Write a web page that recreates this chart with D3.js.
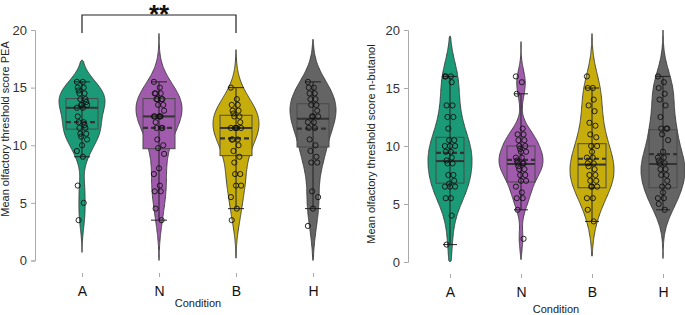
<!DOCTYPE html>
<html>
<head>
<meta charset="utf-8">
<script src="https://cdnjs.cloudflare.com/ajax/libs/d3/7.8.5/d3.min.js"></script>
<style>
  body { margin: 0; background: #fff; }
  svg { font-family: "Liberation Sans", Arial, sans-serif; }
</style>
</head>
<body>
<div id="chart"></div>
<script>
// conditions
var categories = ["A", "N", "B", "H"];

// PEA thresholds, one array per condition
var peaA = [15.5, 15.5, 15, 15, 14.75, 14.5, 14.5, 14, 14, 13.75, 13.5, 13.5, 13.5, 13.25, 13.25, 12.5, 12, 12, 11.75, 11.5, 11.5, 11, 11, 10.75, 10.5, 10, 9.5, 9, 6.5, 5, 3.5];
var peaN = [15.5, 15, 14.5, 14.5, 14.5, 14, 14, 14, 14, 13.5, 13.5, 13, 12.5, 12.5, 12.5, 12.5, 12.5, 12, 11.5, 11.5, 11.5, 10.5, 10, 9.75, 9.25, 8, 7.5, 6.5, 6, 6, 4.5, 3.5];
var peaB = [15, 14, 13.5, 13.5, 13, 13, 12.75, 12.5, 12.5, 12, 11.5, 11.5, 11.5, 11.5, 11.5, 10.5, 10.5, 10.5, 10, 9.5, 9, 8.5, 7.5, 7.5, 6.5, 6.5, 5.5, 4.5, 3.5];
var peaH = [15.5, 15, 15, 14.5, 14.5, 14, 14, 13.5, 13.5, 13, 12.5, 12.5, 12.5, 12, 12, 11.5, 11.5, 10.5, 10, 9.5, 9, 8.5, 8.5, 6, 5.5, 4.5, 3];

// PEA box summaries (A, N, B, H)
var peaQ1     = [11.4, 9.7, 9.1, 9.85];
var peaMedian = [13.25, 12.5, 11.5, 12.3];
var peaQ3     = [14.05, 14.05, 12.6, 13.6];
var peaMean   = [12.0, 11.5, 10.6, 11.45];
var peaLow    = [9, 3.5, 4.5, 4.5];
var peaHigh   = [15.5, 15.5, 15, 15.5];
// where each violin outline ends
var peaTipLow  = [0.7, 0, 0.2, 0];
var peaTipHigh = [17.4, 19.7, 18.3, 19.2];

// n-butanol thresholds
var butA = [16, 16, 16, 15.5, 13.5, 13.5, 12.5, 12.5, 11.5, 10.5, 10.5, 10, 10, 10, 9.5, 9.5, 9, 8.75, 8.5, 8.5, 7.5, 7.5, 7, 6.75, 6.5, 6.5, 6.5, 5.5, 5.5, 4, 1.5];
var butN = [16, 15.5, 14.5, 11.5, 11, 11, 10.5, 10.5, 10, 10, 9.75, 9.5, 9.5, 9, 9, 8.75, 8.5, 8.5, 8.5, 8.25, 8, 8, 7.5, 7.5, 7, 7, 6.5, 6, 5.5, 5.5, 4.5, 2];
var butB = [16, 15, 15, 14, 13.5, 13, 12, 11.75, 11, 10.75, 10, 10, 9.5, 9, 9, 8.5, 8.5, 8.25, 8, 7.5, 7.5, 7, 7, 6.5, 6.5, 6.5, 5.5, 5.5, 4.5, 3.5];
var butH = [16, 15.5, 15, 14.5, 14, 13.5, 12.5, 11.5, 11.5, 11.5, 11, 10.5, 9.5, 9, 9, 8.75, 8.5, 8.5, 8, 8, 7.5, 7.5, 7, 6.5, 6.5, 6, 5.5, 5.5, 5, 4.5];

var butQ1     = [6.8, 6.9, 6.4, 6.4];
var butMedian = [8.7, 8.45, 8.4, 8.45];
var butQ3     = [10.75, 10.0, 10.2, 11.4];
var butMean   = [9.4, 8.8, 8.9, 9.3];
var butLow    = [1.5, 4.5, 3.5, 4.5];
var butHigh   = [16, 14.5, 15, 16];
var butTipLow  = [0, 0.2, 0.5, 0.3];
var butTipHigh = [19.5, 19, 19.7, 20];

var yTicks = [0, 5, 10, 15, 20];

var colors = ["#1b9a77", "#a05bad", "#c6ad0b", "#646464"];

var width = 685, height = 315;

var svg = d3.select("#chart").append("svg")
    .attr("width", width)
    .attr("height", height);

var panels = [
  { groups: [peaA, peaN, peaB, peaH], q1: peaQ1, med: peaMedian, q3: peaQ3, mean: peaMean, lo: peaLow, hi: peaHigh,
    tipLo: peaTipLow, tipHi: peaTipHigh,
    xRange: [82, 313], yRange: [260.5, 30], axisX: 35, halfViolin: 23, halfBox: 16, halfCap: 8,
    title: "Mean olfactory threshold score PEA", titleX: 9, titleY: 129, condX: 198, condY: 307, tickY: 273 },
  { groups: [butA, butN, butB, butH], q1: butQ1, med: butMedian, q3: butQ3, mean: butMean, lo: butLow, hi: butHigh,
    tipLo: butTipLow, tipHi: butTipHigh,
    xRange: [450, 663], yRange: [262, 30], axisX: 408, halfViolin: 22, halfBox: 14, halfCap: 7,
    title: "Mean olfactory threshold score n-butanol", titleX: 375, titleY: 144, condX: 556, condY: 313, tickY: 274 }
];

// gaussian kernel density, bandwidth like R's bw.nrd0
function violinShape(values, from, to) {
  var sorted = values.slice().sort(d3.ascending);
  var n = sorted.length;
  var sd = d3.deviation(sorted);
  var iqr = d3.quantile(sorted, 0.75) - d3.quantile(sorted, 0.25);
  var bw = 0.9 * Math.min(sd, iqr / 1.34) * Math.pow(n, -0.2);
  var pts = d3.range(0, 201).map(function(i) {
    var v = from + (to - from) * i / 200;
    var dens = d3.sum(sorted, function(s) {
      var z = (v - s) / bw;
      return Math.exp(-0.5 * z * z);
    }) / (n * bw * Math.sqrt(2 * Math.PI));
    return [v, dens];
  });
  pts[0][1] = 0;
  pts[200][1] = 0;
  return pts;
}

function jitter(i) {
  return ((i * 7) % 13 - 6) * 0.85;
}

panels.forEach(function(p) {
  var x = d3.scalePoint().domain(categories).range(p.xRange);
  var y = d3.scaleLinear().domain([0, 20]).range(p.yRange);

  // y axis
  var yAxis = svg.append("g")
    .attr("transform", "translate(" + p.axisX + ",0)")
    .call(d3.axisLeft(y).tickValues(yTicks).tickSize(4).tickPadding(4));
  yAxis.select(".domain").attr("stroke", "#aaa");
  yAxis.selectAll(".tick line").attr("stroke", "#aaa");
  yAxis.selectAll(".tick text").style("fill", "#333").style("font-size", "13px");

  // x axis: ticks and labels only
  var xAxis = svg.append("g")
    .attr("transform", "translate(0," + p.tickY + ")")
    .call(d3.axisBottom(x).tickSize(4).tickPadding(9));
  xAxis.select(".domain").remove();
  xAxis.selectAll(".tick line").attr("stroke", "#aaa");
  xAxis.selectAll(".tick text").style("fill", "#111").style("font-size", "14px");

  svg.append("text")
    .attr("x", p.condX).attr("y", p.condY)
    .attr("text-anchor", "middle")
    .style("font-size", "11px").style("fill", "#222")
    .text("Condition");

  svg.append("text")
    .attr("transform", "translate(" + p.titleX + "," + p.titleY + ") rotate(-90)")
    .attr("text-anchor", "middle")
    .style("font-size", "11px").style("fill", "#222")
    .text(p.title);

  p.groups.forEach(function(vals, gi) {
    var cx = x(categories[gi]);
    var col = colors[gi];
    var shape = violinShape(vals, p.tipLo[gi], p.tipHi[gi]);
    var maxD = d3.max(shape, function(d) { return d[1]; });
    var w = d3.scaleLinear().domain([0, maxD]).range([0, p.halfViolin]);

    var area = d3.area()
      .curve(d3.curveBasis)
      .y(function(d) { return y(d[0]); })
      .x0(function(d) { return cx - w(d[1]); })
      .x1(function(d) { return cx + w(d[1]); });

    svg.append("path")
      .datum(shape)
      .attr("d", area)
      .attr("fill", col)
      .attr("stroke", "#3a3a3a")
      .attr("stroke-width", 0.9);

    // box
    svg.append("rect")
      .attr("x", cx - p.halfBox)
      .attr("y", y(p.q3[gi]))
      .attr("width", p.halfBox * 2)
      .attr("height", y(p.q1[gi]) - y(p.q3[gi]))
      .attr("fill", col)
      .attr("stroke", "#4a4a4a")
      .attr("stroke-width", 1);

    // whisker bar with caps
    var g = svg.append("g").attr("stroke", "#222").attr("stroke-width", 1);
    g.append("line").attr("x1", cx).attr("x2", cx)
      .attr("y1", y(p.lo[gi])).attr("y2", y(p.hi[gi]));
    [p.lo[gi], p.hi[gi]].forEach(function(v) {
      g.append("line").attr("x1", cx - p.halfCap).attr("x2", cx + p.halfCap)
        .attr("y1", y(v)).attr("y2", y(v));
    });

    // median
    svg.append("line")
      .attr("x1", cx - p.halfBox).attr("x2", cx + p.halfBox)
      .attr("y1", y(p.med[gi])).attr("y2", y(p.med[gi]))
      .attr("stroke", "#333").attr("stroke-width", 2);

    // mean
    svg.append("line")
      .attr("x1", cx - p.halfBox).attr("x2", cx + p.halfBox)
      .attr("y1", y(p.mean[gi])).attr("y2", y(p.mean[gi]))
      .attr("stroke", "#333").attr("stroke-width", 2.2)
      .attr("stroke-dasharray", "5,3");

    // points
    svg.append("g").selectAll("circle")
      .data(vals)
      .enter().append("circle")
      .attr("cx", function(d, i) { return cx + jitter(i); })
      .attr("cy", function(d) { return y(d); })
      .attr("r", 2.6)
      .attr("fill", "none")
      .attr("stroke", "#111")
      .attr("stroke-width", 0.9);
  });

  p.x = x;
  p.y = y;
});

// significance bracket between A and B in the PEA panel
var left = panels[0];
var bx1 = left.x("A"), bx2 = left.x("B");
svg.append("path")
  .attr("d", "M" + bx1 + "," + left.y(19.75) + "V15H" + bx2 + "V" + left.y(19.75))
  .attr("fill", "none")
  .attr("stroke", "#222")
  .attr("stroke-width", 1.2);
svg.append("text")
  .attr("x", (bx1 + bx2) / 2)
  .attr("y", 23)
  .attr("text-anchor", "middle")
  .style("font-size", "26px")
  .style("font-weight", "bold")
  .style("fill", "#111")
  .text("**");
</script>
</body>
</html>
